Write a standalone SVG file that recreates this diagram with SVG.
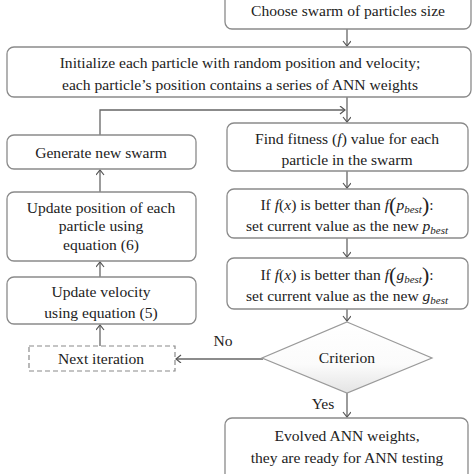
<svg xmlns="http://www.w3.org/2000/svg" width="474" height="474" viewBox="0 0 474 474">
<defs>
<marker id="arr" markerWidth="10" markerHeight="10" refX="6" refY="4" orient="auto" markerUnits="userSpaceOnUse">
<path d="M1,0 L6,4 L1,8" fill="none" stroke="#555" stroke-width="1.2"/>
</marker>
<linearGradient id="dg" x1="0" y1="0" x2="0" y2="1">
<stop offset="0" stop-color="#ffffff"/>
<stop offset="0.6" stop-color="#fbfbfb"/>
<stop offset="1" stop-color="#e4e4e4"/>
</linearGradient>
</defs>
<style>
.box{fill:#fff;stroke:#8a8a8a;stroke-width:1.3}
.dash{fill:#fff;stroke:#8a8a8a;stroke-width:1.2;stroke-dasharray:5,3}
.t{font-family:"Liberation Serif","DejaVu Serif",serif;font-size:15.6px;fill:#222;text-anchor:middle}
.i{font-style:italic}
.c{fill:none;stroke:#666;stroke-width:1.3}
</style>
<rect width="474" height="474" fill="#fff"/>
<g id="connectors">
<path class="c" d="M347,29 V46" marker-end="url(#arr)"/>
<path class="c" d="M347,97 V122" marker-end="url(#arr)"/>
<path class="c" d="M100,135 V110 H345" marker-end="url(#arr)"/>
<path class="c" d="M347,171 V188" marker-end="url(#arr)"/>
<path class="c" d="M347,238 V257" marker-end="url(#arr)"/>
<path class="c" d="M347,309 V321" marker-end="url(#arr)"/>
<path class="c" d="M100,192 V170" marker-end="url(#arr)"/>
<path class="c" d="M100,277 V262" marker-end="url(#arr)"/>
<path class="c" d="M100,346 V325" marker-end="url(#arr)"/>
<path class="c" d="M263,359 H176" marker-end="url(#arr)"/>
<path class="c" d="M347,393 V417" marker-end="url(#arr)"/>
<text class="t" x="223" y="346">No</text>
<text class="t" x="323" y="409">Yes</text>
</g>
<g id="choose">
<rect class="box" x="225" y="-8" width="246" height="37" rx="7"/>
<text class="t" x="348" y="16">Choose swarm of particles size</text>
</g>
<g id="init">
<rect class="box" x="7" y="47" width="464" height="50" rx="7"/>
<text class="t" x="240" y="68">Initialize each particle with random position and velocity;</text>
<text class="t" x="240" y="90">each particle’s position contains a series of ANN weights</text>
</g>
<g id="find">
<rect class="box" x="227" y="123" width="241" height="48" rx="7"/>
<text class="t" x="347" y="144">Find fitness (<tspan class="i">f</tspan>) value for each</text>
<text class="t" x="347" y="165">particle in the swarm</text>
</g>
<g id="pbest">
<rect class="box" x="227" y="189" width="241" height="49" rx="7"/>
<text class="t" x="347" y="210">If <tspan class="i">f</tspan>(<tspan class="i">x</tspan>) is better than <tspan class="i">f</tspan><tspan font-size="22" dy="2">(</tspan><tspan class="i" dy="-2">p</tspan><tspan class="i" font-size="11" dy="3">best</tspan><tspan font-size="22" dy="-1">)</tspan><tspan dy="-2">:</tspan></text>
<text class="t" x="347" y="231">set current value as the new <tspan class="i">p</tspan><tspan class="i" font-size="11" dy="3">best</tspan></text>
</g>
<g id="gbest">
<rect class="box" x="227" y="258" width="241" height="51" rx="7"/>
<text class="t" x="347" y="280">If <tspan class="i">f</tspan>(<tspan class="i">x</tspan>) is better than <tspan class="i">f</tspan><tspan font-size="22" dy="2">(</tspan><tspan class="i" dy="-2">g</tspan><tspan class="i" font-size="11" dy="3">best</tspan><tspan font-size="22" dy="-1">)</tspan><tspan dy="-2">:</tspan></text>
<text class="t" x="347" y="301">set current value as the new <tspan class="i">g</tspan><tspan class="i" font-size="11" dy="3">best</tspan></text>
</g>
<g id="criterion">
<polygon points="347,322 432,358 347,393 262,358" fill="url(#dg)" stroke="#9a9a9a" stroke-width="1.2"/>
<text class="t" x="347" y="363">Criterion</text>
</g>
<g id="final">
<rect class="box" x="225" y="418" width="243" height="64" rx="7"/>
<text class="t" x="347" y="441">Evolved ANN weights,</text>
<text class="t" x="347" y="463">they are ready for ANN testing</text>
</g>
<g id="generate">
<rect class="box" x="7" y="135" width="189" height="34" rx="7"/>
<text class="t" x="101" y="158">Generate new swarm</text>
</g>
<g id="updpos">
<rect class="box" x="7" y="192" width="189" height="69" rx="7"/>
<text class="t" x="101" y="213">Update position of each</text>
<text class="t" x="101" y="231">particle using</text>
<text class="t" x="101" y="250">equation (6)</text>
</g>
<g id="updvel">
<rect class="box" x="7" y="277" width="189" height="47" rx="7"/>
<text class="t" x="101" y="297">Update velocity</text>
<text class="t" x="101" y="318">using equation (5)</text>
</g>
<g id="next">
<rect class="dash" x="29" y="346" width="146" height="25"/>
<text class="t" x="101" y="364">Next iteration</text>
</g>
</svg>
